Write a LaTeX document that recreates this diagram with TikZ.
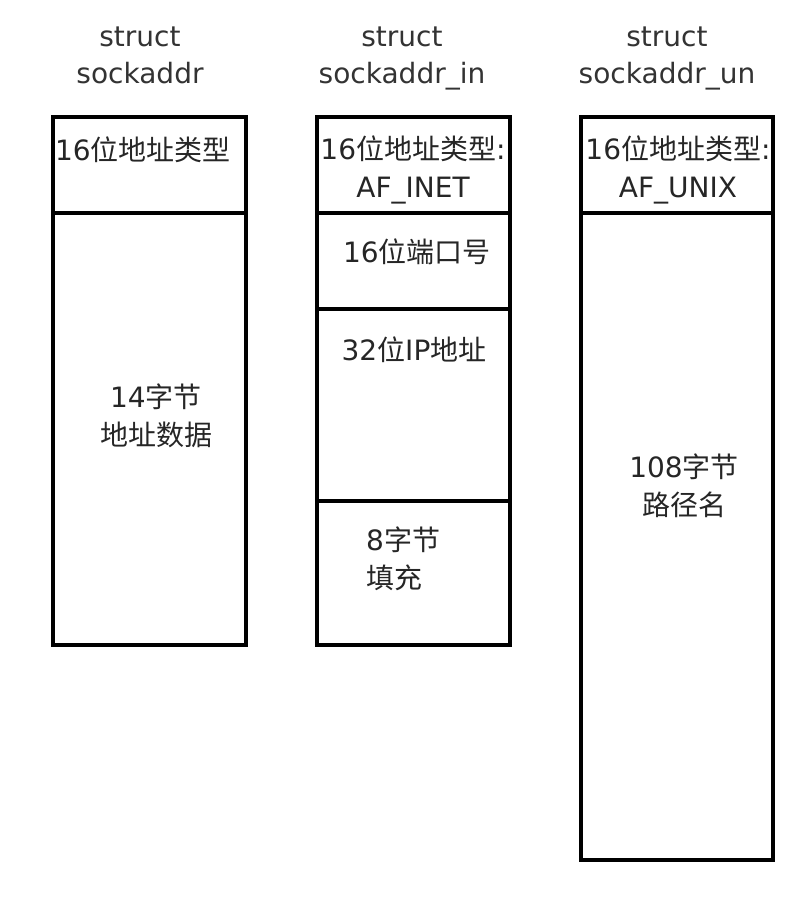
\documentclass[tikz,border=0pt]{standalone}
\usepackage{fontspec}
\setmainfont{DejaVu Sans}
\newfontfamily\cjk{Noto Sans CJK SC}
\usepackage{tikz}
\usetikzlibrary{positioning}
\tikzset{
  sockcell/.style={draw=black, line width=3.2pt},
  socktitle/.style={align=center, text=black!80, inner sep=0pt,
    font=\fontsize{28pt}{37pt}\selectfont},
  socktext/.style={align=center, text=black!85, inner sep=0pt,
    font=\fontsize{28pt}{38pt}\selectfont},
}

\begin{document}
\begin{tikzpicture}[x=1pt,y=-1pt]
  \useasboundingbox[fill=white] (0,0) rectangle (800,904);
  % struct sockaddr
  \draw[sockcell] (53,117) rectangle (246,645);
  \draw[sockcell] (53,213) -- (246,213);
  % struct sockaddr_in
  \draw[sockcell] (317,117) rectangle (510,645);
  \draw[sockcell] (317,213) -- (510,213);
  \draw[sockcell] (317,309) -- (510,309);
  \draw[sockcell] (317,501) -- (510,501);
  % struct sockaddr_un
  \draw[sockcell] (581,117) rectangle (773,860);
  \draw[sockcell] (581,213) -- (773,213);

  \node[socktitle] (tsock)   at (140,55) {struct\\sockaddr};
  \node[socktitle] (tsockin) at (402,58) {struct\\sockaddr\_in};
  \node[socktitle] (tsockun) at (667,58) {struct\\sockaddr\_un};

  \node[socktext] (family)   at (143,150) {16{\cjk 位地址类型}};
  \node[socktext] (data)     at (156,416) {14{\cjk 字节}\\{\cjk 地址数据}};

  \node[socktext] (familyin) at (413,170) {16{\cjk 位地址类型}:\\AF\_INET};
  \node[socktext] (port)     at (417,252) {16{\cjk 位端口号}};
  \node[socktext] (addr)     at (414,350) {32{\cjk 位}IP{\cjk 地址}};
  \node[socktext, anchor=west, align=left] (zero) at (366,559) {8{\cjk 字节}\\{\cjk 填充}};

  \node[socktext] (familyun) at (678,170) {16{\cjk 位地址类型}:\\AF\_UNIX};
  \node[socktext] (path)     at (684,486) {108{\cjk 字节}\\{\cjk 路径名}};
\end{tikzpicture}
\end{document}
